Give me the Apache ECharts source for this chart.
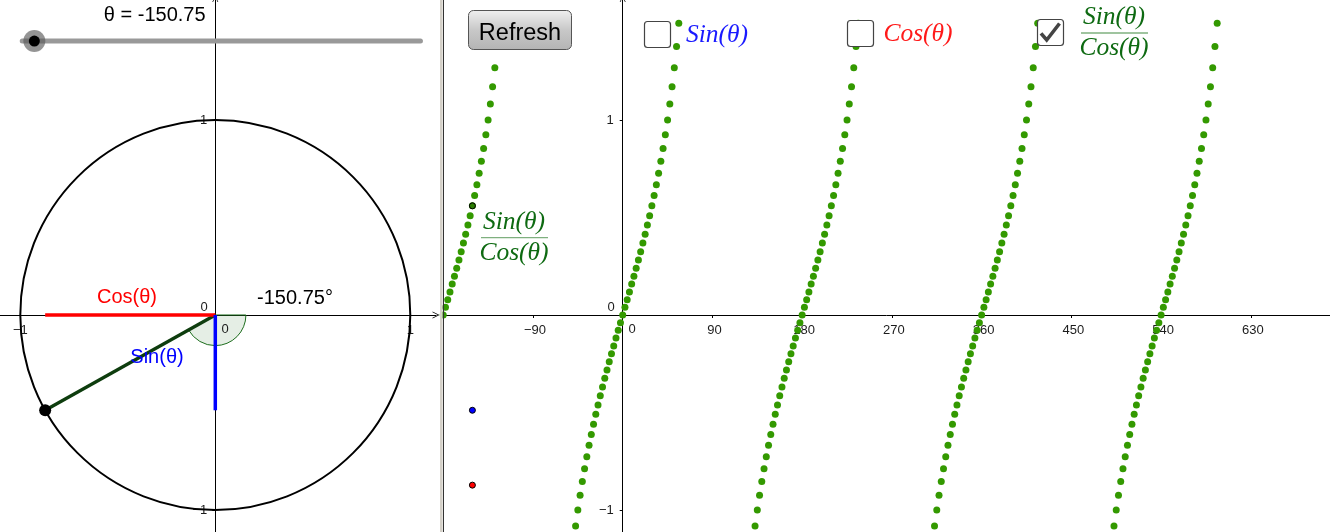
<!DOCTYPE html>
<html>
<head>
<meta charset="utf-8">
<title>Unit circle and tan</title>
<script src="https://cdn.jsdelivr.net/npm/echarts@6/dist/echarts.min.js"></script>
<style>html,body{margin:0;padding:0;background:#fff}#c{width:1330px;height:532px}</style>
</head>
<body>
<div id="c"></div>
<script>
// ---- values ----
const theta = -150.75;
const sinValue = -0.4886;
const cosValue = -0.8725;
const tanValue = 0.56;
const circleRadius = [1];
const angleMarkRadius = [0.157];
const sliderTrackX = [-0.99, 1.052];
const sliderRowY = [1.405];
const sliderKnobX = [-0.928];

const leftTicks = [-1, 1];
const rightXTicks = [-90, 90, 180, 270, 360, 450, 540, 630];
const rightYTicks = [-1, 1];

const thetaB1 = [-180,-177.75,-175.5,-173.25,-171,-168.75,-166.5,-164.25,-162,-159.75,-157.5,-155.25,-153,-150.75,-148.5,-146.25,-144,-141.75,-139.5,-137.25,-135,-132.75,-130.5,-128.25,-126,-123.75];
const ratioB1 = [0,0.0393,0.0787,0.1184,0.1584,0.1989,0.2401,0.282,0.3249,0.3689,0.4142,0.461,0.5095,0.56,0.6128,0.6682,0.7265,0.7883,0.8541,0.9244,1,1.0826,1.1708,1.2685,1.3764,1.4966];

const thetaB2 = [-47.25,-45,-42.75,-40.5,-38.25,-36,-33.75,-31.5,-29.25,-27,-24.75,-22.5,-20.25,-18,-15.75,-13.5,-11.25,-9,-6.75,-4.5,-2.25,0,2.25,4.5,6.75,9,11.25,13.5,15.75,18,20.25,22.5,24.75,27,29.25,31.5,33.75,36,38.25,40.5,42.75,45,47.25,49.5,51.75,54,56.25];
const ratioB2 = [-1.0826,-1,-0.9244,-0.8541,-0.7883,-0.7265,-0.6682,-0.6128,-0.56,-0.5095,-0.461,-0.4142,-0.3689,-0.3249,-0.282,-0.2401,-0.1989,-0.1584,-0.1184,-0.0787,-0.0393,0,0.0393,0.0787,0.1184,0.1584,0.1989,0.2401,0.282,0.3249,0.3689,0.4142,0.461,0.5095,0.56,0.6128,0.6682,0.7265,0.7883,0.8541,0.9244,1,1.0826,1.1708,1.2685,1.3764,1.4966];

const thetaB3 = [132.75,135,137.25,139.5,141.75,144,146.25,148.5,150.75,153,155.25,157.5,159.75,162,164.25,166.5,168.75,171,173.25,175.5,177.75,180,182.25,184.5,186.75,189,191.25,193.5,195.75,198,200.25,202.5,204.75,207,209.25,211.5,213.75,216,218.25,220.5,222.75,225,227.25,229.5,231.75,234,236.25];
const ratioB3 = [-1.0826,-1,-0.9244,-0.8541,-0.7883,-0.7265,-0.6682,-0.6128,-0.56,-0.5095,-0.461,-0.4142,-0.3689,-0.3249,-0.282,-0.2401,-0.1989,-0.1584,-0.1184,-0.0787,-0.0393,0,0.0393,0.0787,0.1184,0.1584,0.1989,0.2401,0.282,0.3249,0.3689,0.4142,0.461,0.5095,0.56,0.6128,0.6682,0.7265,0.7883,0.8541,0.9244,1,1.0826,1.1708,1.2685,1.3764,1.4966];

const thetaB4 = [312.75,315,317.25,319.5,321.75,324,326.25,328.5,330.75,333,335.25,337.5,339.75,342,344.25,346.5,348.75,351,353.25,355.5,357.75,360,362.25,364.5,366.75,369,371.25,373.5,375.75,378,380.25,382.5,384.75,387,389.25,391.5,393.75,396,398.25,400.5,402.75,405,407.25,409.5,411.75,414,416.25];
const ratioB4 = [-1.0826,-1,-0.9244,-0.8541,-0.7883,-0.7265,-0.6682,-0.6128,-0.56,-0.5095,-0.461,-0.4142,-0.3689,-0.3249,-0.282,-0.2401,-0.1989,-0.1584,-0.1184,-0.0787,-0.0393,0,0.0393,0.0787,0.1184,0.1584,0.1989,0.2401,0.282,0.3249,0.3689,0.4142,0.461,0.5095,0.56,0.6128,0.6682,0.7265,0.7883,0.8541,0.9244,1,1.0826,1.1708,1.2685,1.3764,1.4966];

const thetaB5 = [492.75,495,497.25,499.5,501.75,504,506.25,508.5,510.75,513,515.25,517.5,519.75,522,524.25,526.5,528.75,531,533.25,535.5,537.75,540,542.25,544.5,546.75,549,551.25,553.5,555.75,558,560.25,562.5,564.75,567,569.25,571.5,573.75,576,578.25,580.5,582.75,585,587.25,589.5,591.75,594,596.25];
const ratioB5 = [-1.0826,-1,-0.9244,-0.8541,-0.7883,-0.7265,-0.6682,-0.6128,-0.56,-0.5095,-0.461,-0.4142,-0.3689,-0.3249,-0.282,-0.2401,-0.1989,-0.1584,-0.1184,-0.0787,-0.0393,0,0.0393,0.0787,0.1184,0.1584,0.1989,0.2401,0.282,0.3249,0.3689,0.4142,0.461,0.5095,0.56,0.6128,0.6682,0.7265,0.7883,0.8541,0.9244,1,1.0826,1.1708,1.2685,1.3764,1.4966];

const thetaLabel = 'θ = -150.75';
const angleLabel = '-150.75°';
const sinLabel = 'Sin(θ)';
const cosLabel = 'Cos(θ)';
const buttonLabel = 'Refresh';

// ---- chart ----
const SANS = '"Liberation Sans", Arial, sans-serif';
const SERIF = '"Liberation Serif", serif';
const GREEN = '#339900';
const MATH_GREEN = '#0e6a12';
const chevron = 'path://M0 10 L5 0 L10 10 L8.8 10 L5 2.4 L1.2 10 Z';
const minus = v => String(v).replace('-', '\u2212');

// Axes run past the canvas so their minimum is a whole unit; the offset puts them on the zero lines.
function axisBase(min, max, interval, ticks, extra, labelExtra) {
  return Object.assign({
    type: 'value', min, max, interval, splitLine: { show: false },
    axisLine: { show: true, onZero: false, lineStyle: { color: '#000', width: 1 } },
    axisTick: { show: true, length: 3, inside: false, customValues: ticks, lineStyle: { color: '#000', width: 1 } },
    axisLabel: Object.assign({ show: true, customValues: ticks, formatter: minus, color: '#1c1c1c', fontFamily: SANS, fontSize: 13, margin: 9 }, labelExtra || {})
  }, extra || {});
}
function pairs(xs, ys) { return xs.map((x, i) => [x, ys[i]]); }
function dots(xs, ys) {
  return { type: 'scatter', xAxisIndex: 1, yAxisIndex: 1, symbolSize: 7, z: 3,
    itemStyle: { color: GREEN, opacity: 1 }, data: pairs(xs, ys), silent: true };
}
function marker(x, y, fill) {
  return { type: 'scatter', xAxisIndex: 1, yAxisIndex: 1, symbolSize: 6, z: 4,
    itemStyle: { color: fill, borderColor: '#000', borderWidth: 1, opacity: 1 }, data: [[x, y]], silent: true };
}
function segment(pts, color, width, z, cap) {
  return { type: 'line', xAxisIndex: 0, yAxisIndex: 0, data: pts, symbol: 'none', z,
    lineStyle: { color, width, cap: cap || 'butt' }, silent: true, clip: false };
}
function text(str, cx, cy, color, size, font, italic) {
  return { type: 'text', z: 100, silent: true, style: {
    text: str, x: cx, y: cy, fill: color, font: (italic ? 'italic ' : '') + size + 'px ' + font,
    align: 'center', verticalAlign: 'middle' } };
}
function checkbox(x, y) {
  return { type: 'rect', z: 100, silent: true, shape: { x, y, width: 26, height: 26, r: 3 },
    style: { fill: '#fff', stroke: '#444', lineWidth: 1.2 } };
}
function rule(x1, x2, y, color) {
  return { type: 'line', z: 100, silent: true, shape: { x1, y1: y, x2, y2: y }, style: { stroke: color, lineWidth: 1.3 } };
}

const option = {
  animation: false,
  backgroundColor: '#fff',
  grid: [
    { left: -174.7, top: -1, width: 610.7, height: 706, containLabel: false, outerBoundsMode: 'none' },
    { left: 443.24, top: -1, width: 886.76, height: 706, containLabel: false, outerBoundsMode: 'none' }
  ],
  xAxis: [
    axisBase(-2, 1.1318, 1, leftTicks, { gridIndex: 0, position: 'bottom', offset: -390 }),
    axisBase(-180, 709.4, 90, rightXTicks, { gridIndex: 1, position: 'bottom', offset: -390 }, { padding: [0, 0, 0, 4] })
  ],
  yAxis: [
    axisBase(-2, 1.6205, 1, leftTicks, { gridIndex: 0, position: 'left', offset: -390 }, { margin: 8 }),
    axisBase(-2, 1.6205, 1, rightYTicks, { gridIndex: 1, position: 'left', offset: -179.46 })
  ],
  series: [
    { type: 'custom', xAxisIndex: 0, yAxisIndex: 0, z: 2, silent: true, clip: false,
      data: [[0, 0, circleRadius[0]]],
      renderItem(p, api) {
        const c = api.coord([api.value(0), api.value(1)]);
        const r = api.size([api.value(2), 0])[0];
        return { type: 'circle', shape: { cx: c[0], cy: c[1], r },
          style: { fill: 'none', stroke: '#000', lineWidth: 2 } };
      } },
    { type: 'custom', xAxisIndex: 0, yAxisIndex: 0, z: 2, silent: true, clip: false,
      data: [[0, 0, angleMarkRadius[0], theta]],
      renderItem(p, api) {
        const c = api.coord([api.value(0), api.value(1)]);
        const r = api.size([api.value(2), 0])[0];
        return { type: 'sector',
          shape: { cx: c[0], cy: c[1], r, r0: 0, startAngle: 0, endAngle: -api.value(3) * Math.PI / 180, clockwise: true },
          style: { fill: 'rgba(0,90,0,0.1)', stroke: '#1f6f1f', lineWidth: 1 } };
      } },
    segment([[0, 0], [cosValue, sinValue]], '#0e3d0e', 3.3, 3),
    segment([[0, 0], [cosValue, 0]], '#ff0000', 3.5, 4),
    segment([[0, 0], [0, sinValue]], '#0000ff', 3.5, 4),
    { type: 'scatter', xAxisIndex: 0, yAxisIndex: 0, symbolSize: 12, z: 5, silent: true,
      itemStyle: { color: '#000', opacity: 1 }, data: [[cosValue, sinValue]] },
    segment([[sliderTrackX[0], sliderRowY[0]], [sliderTrackX[1], sliderRowY[0]]], '#999999', 5, 3, 'round'),
    { type: 'scatter', xAxisIndex: 0, yAxisIndex: 0, symbolSize: 22, z: 5, silent: true,
      itemStyle: { color: 'rgba(90,90,90,0.65)', opacity: 1 }, data: [[sliderKnobX[0], sliderRowY[0]]] },
    { type: 'scatter', xAxisIndex: 0, yAxisIndex: 0, symbolSize: 11, z: 6, silent: true,
      itemStyle: { color: '#000', opacity: 1 }, data: [[sliderKnobX[0], sliderRowY[0]]] },
    dots(thetaB1, ratioB1),
    dots(thetaB2, ratioB2),
    dots(thetaB3, ratioB3),
    dots(thetaB4, ratioB4),
    dots(thetaB5, ratioB5),
    marker(theta, tanValue, '#2a7d00'),
    marker(theta, sinValue, '#0000ff'),
    marker(theta, cosValue, '#ff0000')
  ],
  graphic: [
    { type: 'rect', z: 90, silent: true, shape: { x: 440, y: 0, width: 2.6, height: 532 }, style: { fill: '#d4d0c8' } },
    { type: 'rect', z: 90, silent: true, shape: { x: 443, y: 0, width: 1, height: 532 }, style: { fill: '#333' } },
    text('0', 204, 307, '#1c1c1c', 13, SANS),
    text('0', 225, 329, '#1c1c1c', 13, SANS),
    text('0', 611, 307, '#1c1c1c', 13, SANS),
    text('0', 632, 329, '#1c1c1c', 13, SANS),
    text(thetaLabel, 154.7, 15, '#000', 20, SANS),
    text(cosLabel, 127, 297, '#ff0000', 20, SANS),
    text(sinLabel, 157, 357, '#0000ff', 20, SANS),
    text(angleLabel, 295, 298, '#000', 20, SANS),
    { type: 'rect', z: 100, silent: true, shape: { x: 468.5, y: 10.5, width: 103, height: 39, r: 5 },
      style: { stroke: '#555', lineWidth: 1,
        fill: { type: 'linear', x: 0, y: 0, x2: 0, y2: 1, colorStops: [{ offset: 0, color: '#f0f0f0' }, { offset: 0.5, color: '#c8c8c8' }, { offset: 1, color: '#b4b4b4' }] } } },
    text(buttonLabel, 520, 34, '#000', 23.5, SANS),
    checkbox(644.5, 21.5),
    text(sinLabel, 717, 35, '#1a1aff', 25.5, SERIF, true),
    checkbox(847.5, 20.5),
    text(cosLabel, 918, 34, '#ff1a1a', 25.5, SERIF, true),
    checkbox(1037.5, 19.5),
    { type: 'polyline', z: 101, silent: true, shape: { points: [[1041, 33.3], [1046.7, 40], [1059.5, 23.5]] },
      style: { fill: 'none', stroke: '#444', lineWidth: 3.6 } },
    text(sinLabel, 1114, 17, MATH_GREEN, 25.5, SERIF, true),
    rule(1081, 1148, 33, '#7fb07f'),
    text(cosLabel, 1114, 48, MATH_GREEN, 25.5, SERIF, true),
    text(sinLabel, 514, 222, MATH_GREEN, 25.5, SERIF, true),
    rule(481, 548, 237.7, '#7fb07f'),
    text(cosLabel, 514, 253, MATH_GREEN, 25.5, SERIF, true)
  ]
};
option.xAxis[0].axisLine.symbol = ['none', chevron];
option.xAxis[0].axisLine.symbolSize = [10, 7];
option.yAxis[0].axisLine.symbol = ['none', chevron];
option.yAxis[0].axisLine.symbolSize = [10, 6];
option.yAxis[1].axisLine.symbol = ['none', chevron];
option.yAxis[1].axisLine.symbolSize = [10, 6];

echarts.init(document.getElementById('c'), null, { renderer: 'canvas' }).setOption(option);
</script>
</body>
</html>
